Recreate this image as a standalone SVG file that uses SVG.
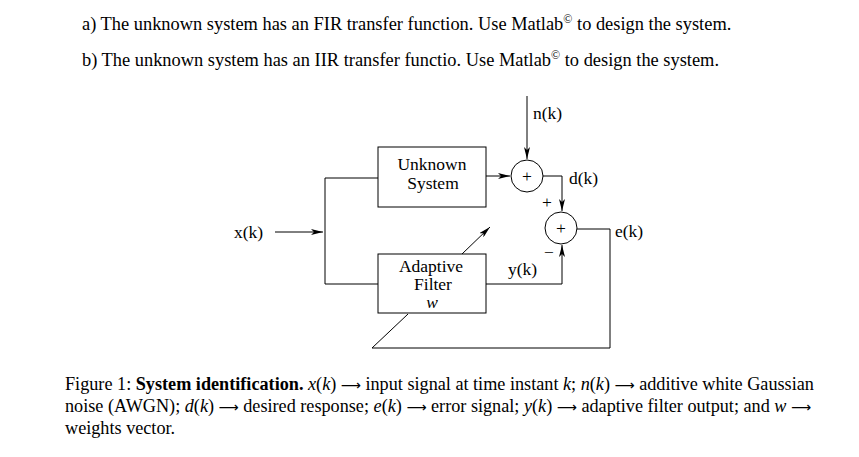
<svg xmlns="http://www.w3.org/2000/svg" width="859" height="457" viewBox="0 0 859 457">
<style>
text{font-family:"Liberation Serif","Times New Roman",serif;fill:#000}
.t{font-size:18.4px}.c{font-size:18.2px}.l{font-size:17.5px}
.ar{font-family:"DejaVu Sans",sans-serif;font-size:14px}
.w{fill:none;stroke:#000;stroke-width:1}
.b{fill:#fff;stroke:#000;stroke-width:1}
</style>
<defs><marker id="a" markerWidth="12" markerHeight="6" refX="12" refY="3" orient="auto" markerUnits="userSpaceOnUse"><path d="M0,0 L12,3 L0,6 L3,3 Z" fill="#000"/></marker></defs>
<rect width="859" height="457" fill="#fff"/>
<text class="t" x="82" y="30">a)  The unknown system has an FIR transfer function. Use Matlab<tspan font-size="12" dy="-7">©</tspan><tspan dy="7"> to design the system.</tspan></text>
<text class="t" x="82" y="66">b)  The unknown system has an IIR transfer functio. Use Matlab<tspan font-size="12" dy="-7">©</tspan><tspan dy="7"> to design the system.</tspan></text>
<g id="connectors">
<path class="w" d="M275,232 H323" marker-end="url(#a)"/>
<path class="w" d="M378,178 H325 V284 H378"/>
<path class="w" d="M486,176 H510" marker-end="url(#a)"/>
<path class="w" d="M527,96 V159" marker-end="url(#a)"/>
<path class="w" d="M543,176 H562 V211" marker-end="url(#a)"/>
<path class="w" d="M486,284 H562 V245" marker-end="url(#a)"/>
<path class="w" d="M577,229 H610 V348 H372 L408,314"/>
<path class="w" d="M462,254 L490,227" marker-end="url(#a)"/>
</g>
<g id="unknown"><rect class="b" x="378" y="147" width="108" height="60"/><text class="l" x="432" y="170" text-anchor="middle">Unknown</text><text class="l" x="433" y="189" text-anchor="middle">System</text></g>
<g id="adaptive"><rect class="b" x="378" y="254" width="108" height="59"/><text class="l" x="431" y="272" text-anchor="middle">Adaptive</text><text class="l" x="433" y="290" text-anchor="middle">Filter</text><text class="l" x="432" y="308" text-anchor="middle" font-style="italic">w</text></g>
<g id="sum1"><circle class="b" cx="527" cy="176" r="16"/><text class="l" x="527" y="182" text-anchor="middle">+</text></g>
<g id="sum2"><circle class="b" cx="561" cy="228" r="16"/><text class="l" x="561" y="234" text-anchor="middle">+</text></g>
<g id="labels">
<text class="l" x="234" y="238">x(k)</text>
<text class="l" x="533" y="119">n(k)</text>
<text class="l" x="569" y="184">d(k)</text>
<text class="l" x="615" y="237">e(k)</text>
<text class="l" x="508" y="275">y(k)</text>
<text class="l" x="542" y="208">+</text>
<text class="l" x="544" y="258">−</text>
</g>
<text class="c" x="65" y="390">Figure 1: <tspan font-weight="bold">System identification.</tspan> <tspan font-style="italic">x</tspan>(<tspan font-style="italic">k</tspan>) <tspan class="ar">⟶</tspan> input signal at time instant <tspan font-style="italic">k</tspan>; <tspan font-style="italic">n</tspan>(<tspan font-style="italic">k</tspan>) <tspan class="ar">⟶</tspan> additive white Gaussian</text>
<text class="c" x="65" y="412">noise (AWGN); <tspan font-style="italic">d</tspan>(<tspan font-style="italic">k</tspan>) <tspan class="ar">⟶</tspan> desired response; <tspan font-style="italic">e</tspan>(<tspan font-style="italic">k</tspan>) <tspan class="ar">⟶</tspan> error signal; <tspan font-style="italic">y</tspan>(<tspan font-style="italic">k</tspan>) <tspan class="ar">⟶</tspan> adaptive filter output; and <tspan font-style="italic">w</tspan> <tspan class="ar">⟶</tspan></text>
<text class="c" x="65" y="434">weights vector.</text>
</svg>
